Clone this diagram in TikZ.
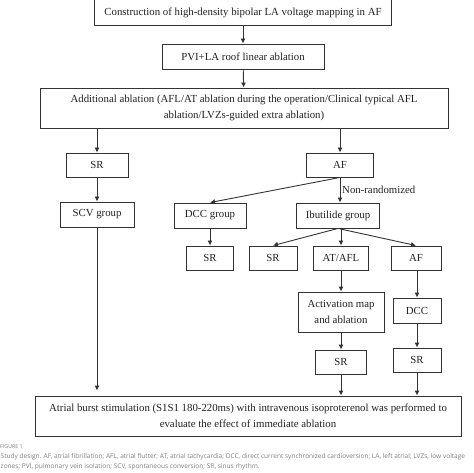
\documentclass[tikz,border=0pt]{standalone}
\usepackage{fontspec}
\setmainfont{Liberation Serif}
\newfontfamily\capfont{Open Sans}
\usetikzlibrary{arrows.meta,calc}
\definecolor{ink}{HTML}{222222}
\definecolor{edge}{HTML}{333333}
\definecolor{capgray}{HTML}{808080}
\tikzset{
  box/.style={draw=edge,line width=0.9pt,fill=white,text=ink,inner sep=0pt,align=center,font=\fontsize{10.8}{16}\selectfont},
  arr/.style={draw=edge,line width=0.9pt,-{Latex[length=5pt,width=5pt]}},
  lbl/.style={text=ink,font=\fontsize{10.8}{12}\selectfont,inner sep=0pt,anchor=west},
  captext/.style={text=capgray,font=\capfont\fontsize{6.55}{8}\selectfont,inner sep=0pt,anchor=base west}
}
\begin{document}
\begin{tikzpicture}[x=1pt,y=-1pt]
\useasboundingbox (0,0) rectangle (474,473);
\node[box,minimum width=297pt,minimum height=26pt] (top) at (243,12.5) {Construction of high-density bipolar LA voltage mapping in AF};
\node[box,minimum width=162pt,minimum height=25pt] (pvi) at (243,56.5) {PVI+LA roof linear ablation};
\node[box,minimum width=408pt,minimum height=40pt] (add) at (244,108) {Additional ablation (AFL/AT ablation during the operation/Clinical typical AFL\\ablation/LVZs-guided extra ablation)};
\node[box,minimum width=62pt,minimum height=24pt] (srL) at (97,165) {SR};
\node[box,minimum width=67pt,minimum height=24pt] (afT) at (340,165) {AF};
\node[box,minimum width=74pt,minimum height=25pt] (scv) at (97,214.5) {SCV group};
\node[box,minimum width=72pt,minimum height=25pt] (dcc) at (210,215.5) {DCC group};
\node[box,minimum width=83pt,minimum height=25pt] (ibu) at (338,215.5) {Ibutilide group};
\node[box,minimum width=47pt,minimum height=24pt] (sr2) at (210,258) {SR};
\node[box,minimum width=48pt,minimum height=24pt] (sr3) at (273,258) {SR};
\node[box,minimum width=55pt,minimum height=24pt] (atafl) at (341,258) {AT/AFL};
\node[box,minimum width=50pt,minimum height=24pt] (af2) at (416,258) {AF};
\node[box,minimum width=86pt,minimum height=40pt] (act) at (341,312) {Activation map\\and ablation};
\node[box,minimum width=48pt,minimum height=25pt] (dcc2) at (417,310.5) {DCC};
\node[box,minimum width=51pt,minimum height=24pt] (sr4) at (341,362) {SR};
\node[box,minimum width=48pt,minimum height=24pt] (sr5) at (417,360) {SR};
\node[box,minimum width=426pt,minimum height=40pt] (atr) at (248,416) {Atrial burst stimulation (S1S1 180-220ms) with intravenous isoproterenol was performed to\\evaluate the effect of immediate ablation};

\draw[arr] (top) -- (pvi);
\draw[arr] (pvi) -- (add);
\draw[arr] (add.south -| srL.north) -- (srL.north);
\draw[arr] (add.south -| afT.north) -- (afT.north);
\draw[arr] (srL) -- (scv);
\draw[arr] (afT.south) -- (dcc.north);
\draw[arr] (afT.south) -- (afT.south |- ibu.north);
\node[lbl] (nr) at (342,190) {Non-randomized};
\draw[arr] (dcc) -- (sr2);
\draw[arr] (ibu.south) -- (sr3.north);
\draw[arr] (ibu.south) -- (ibu.south -| atafl.north) -- (atafl.north);
\draw[arr] (ibu.south) -- (af2.north);
\draw[arr] (atafl) -- (act);
\draw[arr] (af2.south -| dcc2.north) -- (dcc2.north);
\draw[arr] (act) -- (sr4);
\draw[arr] (dcc2) -- (sr5);
\draw[arr,shorten >=5pt] (scv.south) -- (scv.south |- atr.north);
\draw[arr] (sr4) -- (sr4.south |- atr.north);
\draw[arr] (sr5) -- (sr5.south |- atr.north);

\node[captext,font=\capfont\fontsize{5.3}{6}\selectfont] (fig) at (0,448.5) {FIGURE 1};
\node[captext] (c1) at (0.5,458) {Study design. AF, atrial fibrillation; AFL, atrial flutter; AT, atrial tachycardia; DCC, direct current synchronized cardioversion; LA, left atrial; LVZs, low voltage};
\node[captext] (c2) at (0.5,468.5) {zones; PVI, pulmonary vein isolation; SCV, spontaneous conversion; SR, sinus rhythm.};
\end{tikzpicture}
\end{document}
